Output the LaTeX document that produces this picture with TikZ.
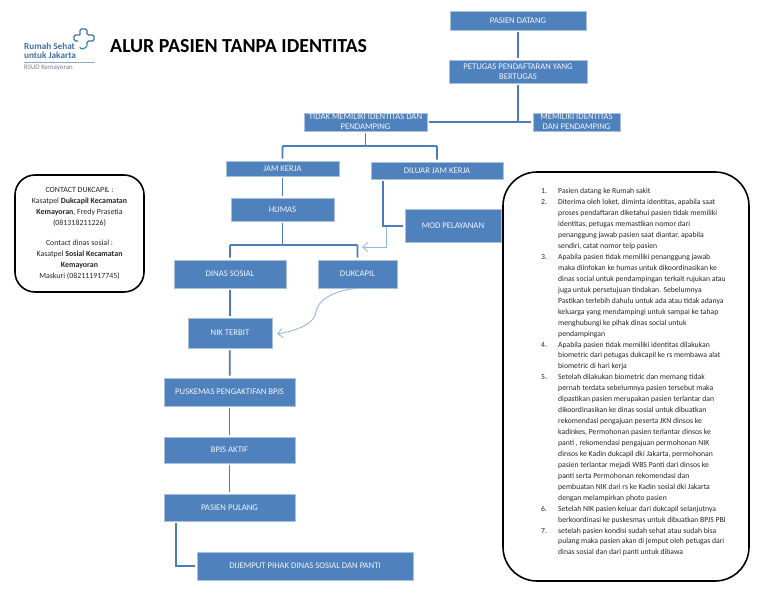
\documentclass[tikz,border=0pt]{standalone}
\usepackage{fontspec}
\setmainfont{Carlito}
\usepackage{tikz}
\definecolor{boxblue}{HTML}{4F81BD}
\definecolor{boxedge}{HTML}{A9C1DE}
\definecolor{linkblue}{HTML}{4A7EBB}
\definecolor{linklight}{HTML}{95B6DC}
\definecolor{logoblue}{HTML}{3F6FA3}
\definecolor{logogreen}{HTML}{2E9C8E}
\definecolor{logogray}{HTML}{6F7F8F}
\tikzset{
  flowbox/.style={draw=boxedge,line width=0.7pt,fill=boxblue,text=white!92!boxblue,align=center,
    inner sep=0pt,font=\fontsize{8.7}{10}\selectfont},
  link/.style={draw=linkblue,line width=1.8pt,shorten >=2pt,shorten <=2pt},
  branch/.style={draw=linkblue,line width=1.8pt,shorten >=2pt,rounded corners=1pt},
  softlink/.style={draw=linklight,line width=0.9pt},
  softarrow/.style={softlink,-{Straight Barb[length=5pt,width=9pt]}},
  infobox/.style={draw=black,line width=1.6pt,fill=white},
  infotext/.style={text=black!85,font=\fontsize{7.7}{10.94}\selectfont},
  logoname/.style={anchor=west,inner sep=0pt,text=logoblue,font=\bfseries\fontsize{9.2}{9}\selectfont}
}
\usetikzlibrary{arrows.meta}
\begin{document}
\begin{tikzpicture}[x=1pt,y=-1pt]
  \useasboundingbox (0,0) rectangle (768,594);

  % logo
  \node[logoname] (logoa) at (24,46.5) {Rumah Sehat};
  \node[logoname] (logob) at (24,55.5) {untuk Jakarta};
  \node[anchor=west,inner sep=0pt,text=logogray,font=\fontsize{6.9}{7}\selectfont] (logoc) at (24,67.5) {RSUD Kemayoran};
  \draw[logoblue!60,line width=0.5pt] (24,61.8) -- (95,61.8);
  \draw[logoblue,line width=1.2pt,rounded corners=1.5pt] (80,35) -- (80,29) -- (87,29) -- (87,35) -- (94,35) -- (94,41) -- (87,41) -- (87,44);
  \draw[logoblue,line width=1.2pt,rounded corners=1.5pt] (80,35) -- (74,35) -- (74,41) -- (78,41);
  \draw[logogreen,line width=1.2pt,rounded corners=1.5pt] (87,44) -- (87,47) -- (81,49.5) -- (80,47);

  % title
  \node[anchor=west,inner sep=0pt,font=\bfseries\fontsize{19.9}{22}\selectfont] (title) at (110,46) {ALUR PASIEN TANPA IDENTITAS};

  % flow
  \node[flowbox,minimum width=136,minimum height=19] (datang) at (518,20.5) {PASIEN DATANG};
  \node[flowbox,minimum width=138,minimum height=23] (petugas) at (518,71.5) {PETUGAS PENDAFTARAN YANG\\BERTUGAS};
  \node[flowbox,minimum width=123,minimum height=18] (tidak) at (365.5,122) {TIDAK MEMILIKI IDENTITAS DAN\\PENDAMPING};
  \node[flowbox,minimum width=87,minimum height=18] (memiliki) at (576.5,122) {MEMILIKI IDENTITAS\\DAN PENDAMPING};
  \node[flowbox,minimum width=113,minimum height=15] (jam) at (282.5,168.5) {JAM KERJA};
  \node[flowbox,minimum width=132,minimum height=17] (diluar) at (437,170.5) {DILUAR JAM KERJA};
  \node[flowbox,minimum width=103,minimum height=23] (humas) at (282.5,209.5) {HUMAS};
  \node[flowbox,minimum width=96,minimum height=33] (mod) at (453,225.5) {MOD PELAYANAN};
  \node[flowbox,minimum width=112,minimum height=28] (dinas) at (230,274) {DINAS SOSIAL};
  \node[flowbox,minimum width=79,minimum height=28] (dukcapil) at (357.5,274) {DUKCAPIL};
  \node[flowbox,minimum width=84,minimum height=30] (nik) at (230,333) {NIK TERBIT};
  \node[flowbox,minimum width=131,minimum height=28] (puskemas) at (229.5,392) {PUSKEMAS PENGAKTIFAN BPJS};
  \node[flowbox,minimum width=131,minimum height=26] (bpjs) at (229.5,450) {BPJS AKTIF};
  \node[flowbox,minimum width=131,minimum height=27] (pulang) at (229.5,507.5) {PASIEN PULANG};
  \node[flowbox,minimum width=216,minimum height=28] (dijemput) at (305,566) {DIJEMPUT PIHAK DINAS SOSIAL DAN PANTI};

  \coordinate (cabang) at (518,122);
  \coordinate (atas) at (365.5,146);
  \coordinate (bawah) at (282.5,245);
  \coordinate (belok) at (383,226);
  \coordinate (panah) at (386,227);
  \coordinate (tuju) at (362,247);
  \coordinate (keluar) at (176,521);

  \draw[link] (datang) -- (petugas);
  \draw[link,shorten >=0pt] (petugas) -- (cabang);
  \draw[link] (tidak) -- (memiliki);
  \draw[link,shorten >=0pt] (tidak) -- (atas);
  \draw[branch] (atas) -| (jam);
  \draw[branch] (atas) -| (diluar);
  \draw[link] (jam) -- (humas);
  \draw[link,shorten >=0pt] (humas) -- (bawah);
  \draw[branch] (bawah) -| (dinas);
  \draw[branch] (bawah) -| (dukcapil);
  \draw[link] (diluar.south -| belok) -- (belok) -- (mod.west |- belok);
  \draw[link] (dinas) -- (nik);
  \draw[link] (nik) -- (puskemas);
  \draw[link] (puskemas) -- (bpjs);
  \draw[link] (bpjs) -- (pulang);
  \draw[link] (keluar) |- (dijemput);

  \draw[softarrow] (panah) |- (tuju);
  \draw[softarrow] (dukcapil.south) .. controls (335,290) and (317,300) .. (316,312)
    .. controls (315,324) and (295,331) .. (277,334);

  % contact
  \node[infobox,rounded corners=20pt,minimum width=129,minimum height=117] (contact) at (79.5,233.5) {};
  \node[infotext,align=center,font=\fontsize{7.9}{11}\selectfont] (contacttext) at (79.5,233) {CONTACT DUKCAPIL :\\
    Kasatpel \textbf{Dukcapil Kecamatan}\\
    \textbf{Kemayoran}, Fredy Prasetia\\
    (081318211226)\\[9pt]
    Contact dinas sosial :\\
    Kasatpel \textbf{Sosial Kecamatan}\\
    \textbf{Kemayoran}\\
    Maskuri (082111917745)};

  % steps
  \node[infobox,rounded corners=34pt,minimum width=246,minimum height=409] (langkah) at (626,376.5) {};
  \node[infotext,anchor=north west,inner sep=0pt] (langkahtext) at (541,186) {%
    \begin{tabular}{@{}p{17pt}@{}l@{}}
    1. & Pasien datang ke Rumah sakit\\
    2. & Diterima oleh loket, diminta identitas, apabila saat\\
       & proses pendaftaran diketahui pasien tidak memiliki\\
       & identitas, petugas memastikan nomor dari\\
       & penanggung jawab pasien saat diantar, apabila\\
       & sendiri, catat nomor telp pasien\\
    3. & Apabila pasien tidak memiliki penanggung jawab\\
       & maka diinfokan ke humas untuk dikoordinasikan ke\\
       & dinas social untuk pendampingan terkait rujukan atau\\
       & juga untuk persetujuan tindakan. Sebelumnya\\
       & Pastikan terlebih dahulu untuk ada atau tidak adanya\\
       & keluarga yang mendampingi untuk sampai ke tahap\\
       & menghubungi ke pihak dinas social untuk\\
       & pendampingan\\
    4. & Apabila pasien tidak memiliki identitas dilakukan\\
       & biometric dari petugas dukcapil ke rs membawa alat\\
       & biometric di hari kerja\\
    5. & Setelah dilakukan biometric dan memang tidak\\
       & pernah terdata sebelumnya pasien tersebut maka\\
       & dipastikan pasien merupakan pasien terlantar dan\\
       & dikoordinasikan ke dinas sosial untuk dibuatkan\\
       & rekomendasi pengajuan peserta JKN dinsos ke\\
       & kadinkes, Permohonan pasien terlantar dinsos ke\\
       & panti , rekomendasi pengajuan permohonan NIK\\
       & dinsos ke Kadin dukcapil dki Jakarta, permohonan\\
       & pasien terlantar mejadi WBS Panti dari dinsos ke\\
       & panti serta Permohonan rekomendasi dan\\
       & pembuatan NIK dari rs ke Kadin sosial dki Jakarta\\
       & dengan melampirkan photo pasien\\
    6. & Setelah NIK pasien keluar dari dukcapil selanjutnya\\
       & berkoordinasi ke puskesmas untuk dibuatkan BPJS PBI\\
    7. & setelah pasien kondisi sudah sehat atau sudah bisa\\
       & pulang maka pasien akan di jemput oleh petugas dari\\
       & dinas sosial dan dari panti untuk dibawa
    \end{tabular}};
\end{tikzpicture}
\end{document}
